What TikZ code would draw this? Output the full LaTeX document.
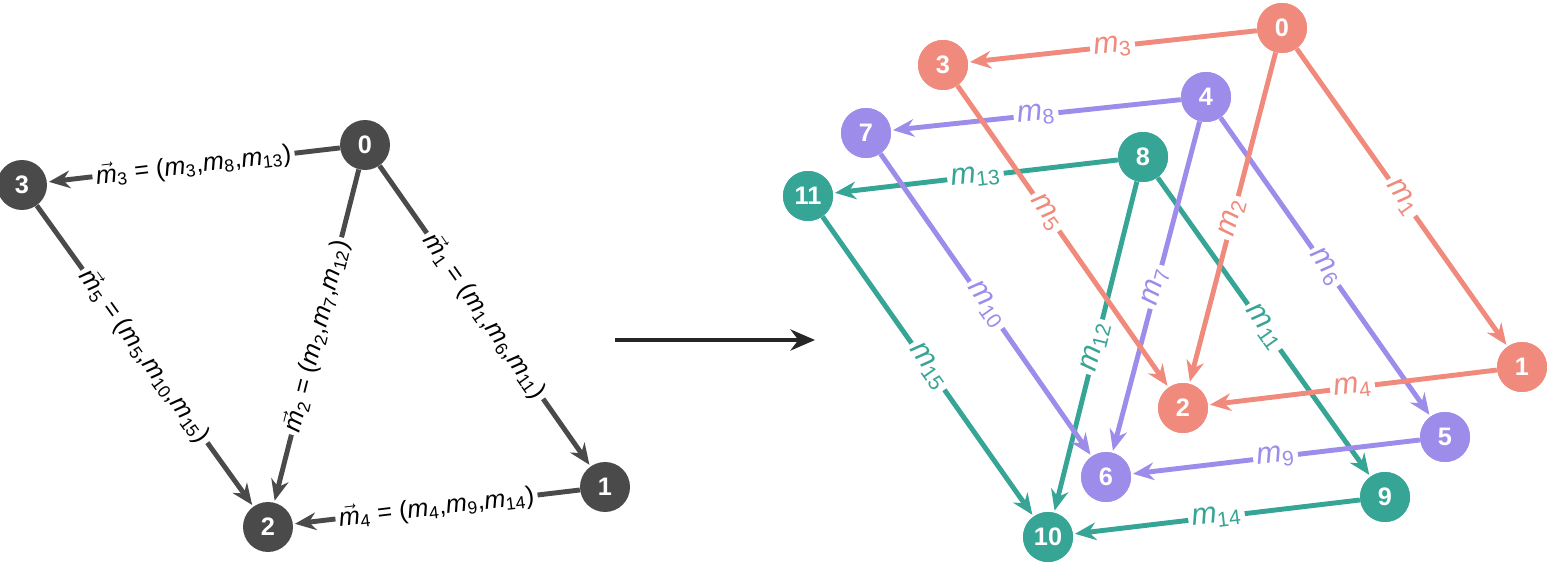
\documentclass[tikz,border=0pt]{standalone}
\usepackage{fontspec}
\setsansfont{Liberation Sans}
\setmainfont{Liberation Sans}
\usetikzlibrary{arrows.meta}
\definecolor{cr}{HTML}{F08A7C}
\definecolor{cp}{HTML}{9E8CEB}
\definecolor{ct}{HTML}{36A596}
\definecolor{cd}{HTML}{4A4A4A}
\newcommand{\Mi}[1]{\textit{m}\textsubscript{#1}}
\newcommand{\Mv}[1]{$\vec{\hbox{\textit{m}}}$\textsubscript{#1}}
\tikzset{
  vtx/.style={circle,minimum size=1cm,inner sep=0pt,fill=#1,text=white,font=\sffamily\bfseries\Large},
  edg/.style={draw=#1,line width=2.8pt,-{Stealth[length=12pt,width=10pt]},shorten >=1pt},
  lab/.style={fill=white,inner sep=2pt,sloped,text=#1,font=\LARGE},
  dlab/.style={fill=white,inner sep=2pt,sloped,text=black,font=\Large},
}
\begin{document}
\begin{tikzpicture}[x=0.02cm,y=-0.02cm]
\useasboundingbox (0,0) rectangle (1550,570);
% left graph
\node[vtx=cd] (L0) at (365,145) {0};
\node[vtx=cd] (L3) at (22,185) {3};
\node[vtx=cd] (L1) at (605,487) {1};
\node[vtx=cd] (L2) at (268,527) {2};
\draw[edg=cd] (L0) -- node[dlab] {\Mv{3} = (\Mi{3},\Mi{8},\Mi{13})} (L3);
\draw[edg=cd] (L0) -- node[dlab] {\Mv{1} = (\Mi{1},\Mi{6},\Mi{11})} (L1);
\draw[edg=cd] (L0) -- node[dlab] {\Mv{2} = (\Mi{2},\Mi{7},\Mi{12})} (L2);
\draw[edg=cd] (L3) -- node[dlab] {\Mv{5} = (\Mi{5},\Mi{10},\Mi{15})} (L2);
\draw[edg=cd] (L1) -- node[dlab] {\Mv{4} = (\Mi{4},\Mi{9},\Mi{14})} (L2);
% big arrow
\coordinate (A1) at (615,340);
\coordinate (A2) at (815,340);
\draw[line width=2.2pt,color=black!85,-{Stealth[length=14pt,width=12pt]}] (A1) -- (A2);
% right graph nodes
\node[vtx=cr] (R0) at (1282,28) {0};
\node[vtx=cr] (R3) at (943,65) {3};
\node[vtx=cp] (R4) at (1206,97) {4};
\node[vtx=cp] (R7) at (866,133) {7};
\node[vtx=ct] (R8) at (1143,157) {8};
\node[vtx=ct] (R11) at (808,196) {11};
\node[vtx=cr] (R1) at (1522,367) {1};
\node[vtx=cr] (R2) at (1183,408) {2};
\node[vtx=cp] (R5) at (1445,437) {5};
\node[vtx=cp] (R6) at (1106,477) {6};
\node[vtx=ct] (R9) at (1385,497) {9};
\node[vtx=ct] (R10) at (1048,537) {10};
% teal
\draw[edg=ct] (R8) -- node[lab=ct] {\Mi{13}} (R11);
\draw[edg=ct] (R8) -- node[lab=ct] {\Mi{11}} (R9);
\draw[edg=ct] (R8) -- node[lab=ct] {\Mi{12}} (R10);
\draw[edg=ct] (R11) -- node[lab=ct] {\Mi{15}} (R10);
\draw[edg=ct] (R9) -- node[lab=ct] {\Mi{14}} (R10);
% purple
\draw[edg=cp] (R4) -- node[lab=cp] {\Mi{8}} (R7);
\draw[edg=cp] (R4) -- node[lab=cp] {\Mi{6}} (R5);
\draw[edg=cp] (R4) -- node[lab=cp] {\Mi{7}} (R6);
\draw[edg=cp] (R7) -- node[lab=cp] {\Mi{10}} (R6);
\draw[edg=cp] (R5) -- node[lab=cp] {\Mi{9}} (R6);
% red
\draw[edg=cr] (R0) -- node[lab=cr] {\Mi{3}} (R3);
\draw[edg=cr] (R0) -- node[lab=cr] {\Mi{1}} (R1);
\draw[edg=cr] (R0) -- node[lab=cr] {\Mi{2}} (R2);
\draw[edg=cr] (R3) -- node[lab=cr,pos=0.42] {\Mi{5}} (R2);
\draw[edg=cr] (R1) -- node[lab=cr] {\Mi{4}} (R2);
% redraw nodes on top
\foreach \n/\c/\t in {R0/cr/0,R3/cr/3,R4/cp/4,R7/cp/7,R8/ct/8,R11/ct/11,R1/cr/1,R2/cr/2,R5/cp/5,R6/cp/6,R9/ct/9,R10/ct/10}
  \node[vtx=\c] at (\n) {\t};
\end{tikzpicture}
\end{document}
